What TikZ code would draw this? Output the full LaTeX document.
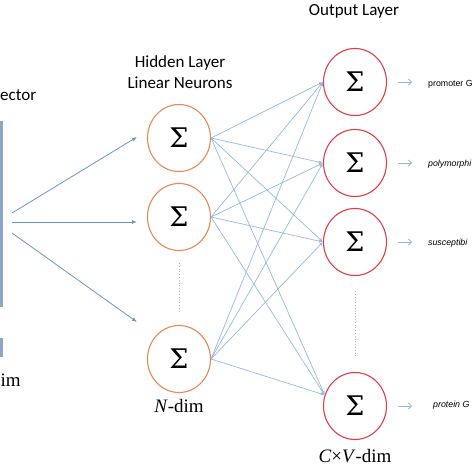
\documentclass[tikz,border=0pt]{standalone}
\usepackage{fontspec}
\setmainfont{Liberation Serif}
\newfontfamily\titlefont{Carlito}
\newfontfamily\tagfont{Liberation Sans}
\newfontfamily\sigmafont{DejaVu Serif}
\usetikzlibrary{positioning,shapes.geometric,arrows.meta}

\definecolor{hidorange}{RGB}{233,135,85}
\definecolor{outred}{RGB}{222,62,72}
\definecolor{wireblue}{RGB}{150,185,220}
\definecolor{feedblue}{RGB}{105,150,200}
\definecolor{barblue}{RGB}{140,165,200}
\definecolor{dotgray}{RGB}{170,185,205}

\begin{document}
\begin{tikzpicture}[
			x=1pt, y=-1pt
			,every node/.append style={inner sep=0pt}
			,neuron/.style={ellipse, draw, line width=1.1pt, minimum width=63pt, minimum height=67pt, font=\sigmafont\fontsize{27}{27}\selectfont}
			,hidneuron/.style={neuron, draw=hidorange}
			,outneuron/.style={neuron, draw=outred}
			,layertitle/.style={font=\titlefont\fontsize{17}{21}\selectfont, align=center}
			,dimlabel/.style={font=\fontsize{19}{19}\selectfont}
			,classtag/.style={font=\tagfont\fontsize{8.8}{11}\selectfont, anchor=west}
			,feed/.style={draw=feedblue, line width=0.8pt, -{Latex[length=5pt,width=4pt]}}
			,wire/.style={draw=wireblue, line width=0.7pt, -{Latex[length=4pt,width=3pt]}}
			,tagarrow/.style={draw=wireblue, line width=0.8pt, -{Straight Barb[length=3pt,width=6pt]}}
			,dots/.style={draw=dotgray, line width=0.8pt, dotted}
			,bar/.style={fill=barblue, minimum width=3pt}
		]
			\useasboundingbox (0,0) rectangle (474,474);

			% input vector
			\node [bar, minimum height=186pt] (vec) at (1.5,214) {};
			\node [bar, minimum height=19pt] (vectail) at (1.5,347.5) {};
			\node [layertitle, anchor=west] (vectitle) at (0,95) {ector};
			\node [dimlabel, anchor=west] (vecdim) at (0.5,380) {im};

			% hidden layer
			\node [hidneuron] (h1) at (179,138) {Σ};
			\node [hidneuron] (h2) at (179,217) {Σ};
			\node [hidneuron] (h3) at (179,359) {Σ};
			\node [layertitle] (hidtitle) at (180,72) {Hidden Layer\\Linear Neurons};
			\node [dimlabel, below=6pt of h3] (hiddim) {\textit{N}-dim};
			\draw [dots, shorten <=12pt, shorten >=13pt] (h2.south) -- (h3.north);

			% output layer
			\node [outneuron] (o1) at (355,82) {Σ};
			\node [outneuron] (o2) at (355,163) {Σ};
			\node [outneuron] (o3) at (355,242) {Σ};
			\node [outneuron] (o4) at (355,406) {Σ};
			\node [layertitle] (outtitle) at (354,11) {Output Layer};
			\node [dimlabel, below=9pt of o4] (outdim) {\textit{C}×\textit{V}-dim};
			\draw [dots, shorten <=15pt, shorten >=15pt] (o3.south) -- (o4.north);

			% input to hidden
			\coordinate (s1) at (12,213);
			\coordinate (s2) at (12,222);
			\coordinate (s3) at (12,233);
			\coordinate [above left=1pt and 10pt of h1.west] (e1);
			\coordinate [below left=5pt and 10pt of h2.west] (e2);
			\coordinate [above left=37pt and 10pt of h3.west] (e3);
			\foreach \i in {1,2,3}
				\draw [feed] (s\i) -- (e\i);

			% hidden to output
			\foreach \h in {1,2,3}
				\foreach \o/\a in {1/west,2/west,3/west,4/160}
					\draw [wire] (h\h.east) -- (o\o.\a);

			% class tags
			\node [classtag] (t1) at (428,84) {promoter G};
			\node [classtag] (t2) at (428,164) {\itshape polymorphi};
			\node [classtag] (t3) at (428,243) {\itshape susceptibi};
			\node [classtag] (t4) at (433,405) {\itshape protein G};
			\foreach \i/\g in {1/16,2/16,3/16,4/21}
				\draw [tagarrow, shorten <=11pt, shorten >=\g pt] (o\i.east) -- (o\i.east -| t\i.west);
		\end{tikzpicture}
\end{document}
